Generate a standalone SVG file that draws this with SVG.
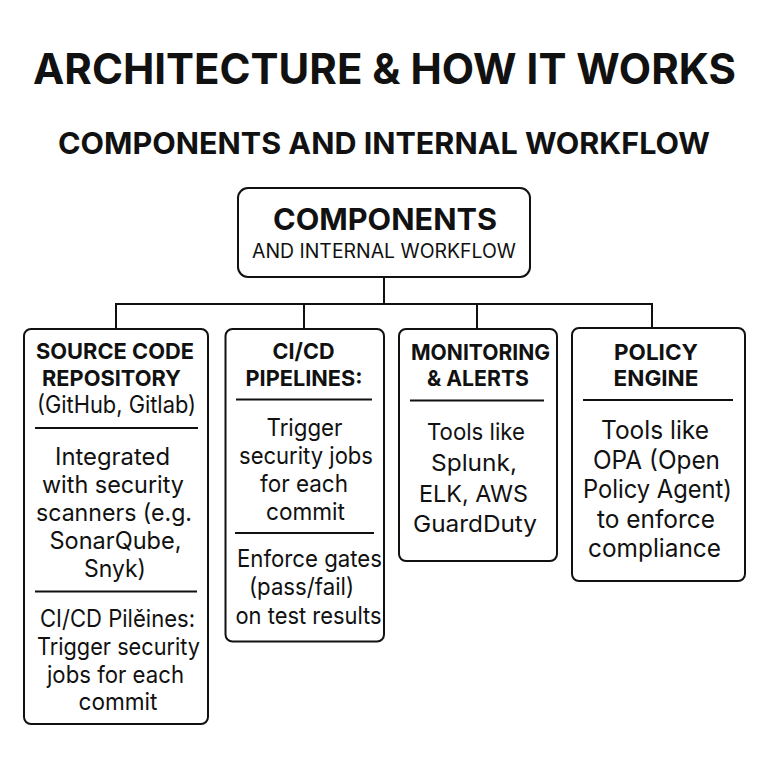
<svg xmlns="http://www.w3.org/2000/svg" width="768" height="768" viewBox="0 0 768 768">
<style>
text{font-family:"Inter","Liberation Sans",sans-serif;fill:#111;text-anchor:middle}
.box{fill:#fff;stroke:#111;stroke-width:2}
.c{fill:none;stroke:#111;stroke-width:2}
.h{font-size:22px;font-weight:700}
.b{font-size:24px}
.m{font-size:23.5px}
.p{font-size:25px}
</style>
<rect width="768" height="768" fill="#fff"/>
<text x="384.500" y="84" font-size="42" font-weight="700" textLength="703" lengthAdjust="spacingAndGlyphs">ARCHITECTURE &amp; HOW IT WORKS</text>
<text x="384" y="154" font-size="30.500" font-weight="700" textLength="652" lengthAdjust="spacingAndGlyphs">COMPONENTS AND INTERNAL WORKFLOW</text>
<g id="connectors">
<path class="c" d="M384 277V304M116 328V304H652V328M304 304V328M477 304V328"/>
</g>
<g id="root"><rect class="box" x="238" y="188" width="292" height="89" rx="10"/>
<text x="385" y="229.500" font-size="30.500" font-weight="700" textLength="224" lengthAdjust="spacingAndGlyphs">COMPONENTS</text>
<text x="384" y="258" font-size="19.500" textLength="264" lengthAdjust="spacingAndGlyphs">AND INTERNAL WORKFLOW</text></g>
<g id="source"><rect class="box" x="24" y="329" width="184" height="395" rx="7"/>
<text class="h" x="115" y="358.500" textLength="158" lengthAdjust="spacingAndGlyphs">SOURCE CODE</text><text class="h" x="111.500" y="385.500" textLength="139" lengthAdjust="spacingAndGlyphs">REPOSITORY</text>
<text class="b" x="116.500" y="412.500" textLength="159" lengthAdjust="spacingAndGlyphs">(GitHub, Gitlab)</text>
<path class="c" d="M35 428H198M35 591.500H197"/>
<text class="b" x="112.500" y="464.500" textLength="115" lengthAdjust="spacingAndGlyphs">Integrated</text><text class="b" x="113" y="492.500" textLength="142" lengthAdjust="spacingAndGlyphs">with security</text><text class="b" x="114" y="520.500" textLength="156" lengthAdjust="spacingAndGlyphs">scanners (e.g.</text><text class="b" x="115.500" y="548.500" textLength="132" lengthAdjust="spacingAndGlyphs">SonarQube,</text><text class="b" x="115" y="576.500" textLength="62" lengthAdjust="spacingAndGlyphs">Snyk)</text>
<text class="b" x="117.500" y="626.500" textLength="155" lengthAdjust="spacingAndGlyphs">CI/CD Pilěines:</text><text class="b" x="118.500" y="654.500" textLength="163" lengthAdjust="spacingAndGlyphs">Trigger security</text><text class="b" x="115.500" y="682.500" textLength="137" lengthAdjust="spacingAndGlyphs">jobs for each</text><text class="b" x="118" y="709.500" textLength="79" lengthAdjust="spacingAndGlyphs">commit</text></g>
<g id="cicd"><rect class="box" x="225.500" y="329" width="158.500" height="312.500" rx="7"/>
<text class="h" x="303.500" y="358.500" textLength="62" lengthAdjust="spacingAndGlyphs">CI/CD</text><text class="h" x="304" y="385.500" textLength="117" lengthAdjust="spacingAndGlyphs">PIPELINES:</text>
<path class="c" d="M236 399.500H372M235 533H374"/>
<text class="b" x="304.500" y="435.500" textLength="76" lengthAdjust="spacingAndGlyphs">Trigger</text><text class="b" x="306" y="463.500" textLength="134" lengthAdjust="spacingAndGlyphs">security jobs</text><text class="b" x="304" y="491.500" textLength="88" lengthAdjust="spacingAndGlyphs">for each</text><text class="b" x="305.500" y="519.500" textLength="79" lengthAdjust="spacingAndGlyphs">commit</text>
<text class="b" x="309.500" y="566.500" textLength="145" lengthAdjust="spacingAndGlyphs">Enforce gates</text><text class="b" x="301.500" y="595" textLength="105" lengthAdjust="spacingAndGlyphs">(pass/fail)</text><text class="b" x="308.500" y="623.500" textLength="146" lengthAdjust="spacingAndGlyphs">on test results</text></g>
<g id="monitoring"><rect class="box" x="399" y="329" width="158" height="232" rx="7"/>
<text class="h" x="480.500" y="359.500" textLength="139" lengthAdjust="spacingAndGlyphs">MONITORING</text><text class="h" x="478" y="385.500" textLength="102" lengthAdjust="spacingAndGlyphs">&amp; ALERTS</text>
<path class="c" d="M410 400.500H544"/>
<text class="m" x="476" y="439.500" textLength="98" lengthAdjust="spacingAndGlyphs">Tools like</text><text class="m" x="474" y="470.500" textLength="86" lengthAdjust="spacingAndGlyphs">Splunk,</text><text class="m" x="473.500" y="501.500" textLength="109" lengthAdjust="spacingAndGlyphs">ELK, AWS</text><text class="m" x="475" y="531.500" textLength="124" lengthAdjust="spacingAndGlyphs">GuardDuty</text></g>
<g id="policy"><rect class="box" x="572" y="328" width="173" height="253" rx="7"/>
<text class="h" x="656" y="359.500" textLength="84" lengthAdjust="spacingAndGlyphs">POLICY</text><text class="h" x="656" y="385.500" textLength="85" lengthAdjust="spacingAndGlyphs">ENGINE</text>
<path class="c" d="M583 400H733"/>
<text class="p" x="655" y="438.500" textLength="108" lengthAdjust="spacingAndGlyphs">Tools like</text><text class="p" x="656.500" y="469" textLength="127" lengthAdjust="spacingAndGlyphs">OPA (Open</text><text class="p" x="657.500" y="498" textLength="149" lengthAdjust="spacingAndGlyphs">Policy Agent)</text><text class="p" x="656" y="527.500" textLength="118" lengthAdjust="spacingAndGlyphs">to enforce</text><text class="p" x="654.500" y="556.500" textLength="133" lengthAdjust="spacingAndGlyphs">compliance</text></g>
</svg>
